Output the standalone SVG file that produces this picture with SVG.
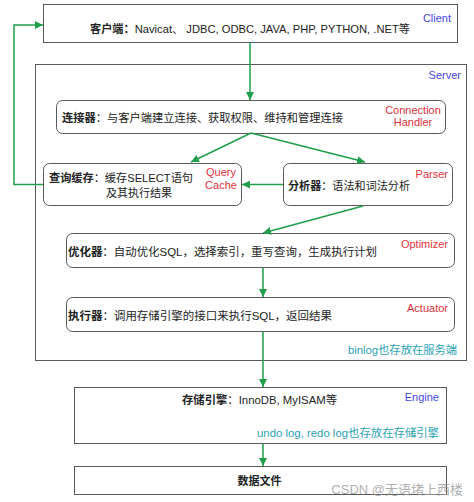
<svg xmlns="http://www.w3.org/2000/svg" width="474" height="502" viewBox="0 0 474 502">
<defs>
<marker id="ah" viewBox="0 0 10 10" refX="10" refY="5" markerWidth="8" markerHeight="8" markerUnits="userSpaceOnUse" orient="auto">
<path d="M0,0 L10,5 L0,10 z" fill="#1f9e4b"/>
</marker>
<style>
.box{fill:#fff;stroke:#595959;stroke-width:1}
.t{font-family:"Liberation Sans","Noto Sans CJK SC",sans-serif;font-size:11px;fill:#222}
.b{font-weight:bold}
.red{font-family:"Liberation Sans",Arial,sans-serif;font-size:11px;fill:#e0303a}
.blue{font-family:"Liberation Sans",Arial,sans-serif;font-size:11px;fill:#4646e6}
.teal{font-family:"Liberation Sans","Noto Sans CJK SC",sans-serif;font-size:11px;fill:#2ba3b3}
.c{fill:none;stroke:#1f9e4b;stroke-width:1.5}
</style>
</defs>
<rect width="474" height="502" fill="#fff"/>
<g id="server">
<rect class="box" x="35.5" y="64.5" width="431" height="296"/>
<text class="blue" x="461" y="79" text-anchor="end">Server</text>
<text class="teal" x="457" y="354" text-anchor="end" textLength="109" lengthAdjust="spacingAndGlyphs">binlog也存放在服务端</text>
</g>
<g id="client">
<rect class="box" x="43.5" y="4.5" width="414" height="38"/>
<text class="t" x="90" y="33" textLength="320" lengthAdjust="spacingAndGlyphs"><tspan class="b">客户端：</tspan>Navicat、 JDBC, ODBC, JAVA, PHP, PYTHON, .NET等</text>
<text class="blue" x="451" y="22" text-anchor="end">Client</text>
</g>
<g id="connector">
<rect class="box" x="56.5" y="100.5" width="389" height="33" rx="6"/>
<text class="t" x="62" y="122" textLength="281" lengthAdjust="spacingAndGlyphs"><tspan class="b">连接器</tspan>：与客户端建立连接、获取权限、维持和管理连接</text>
<text class="red" x="413" y="114" text-anchor="middle">Connection</text>
<text class="red" x="413" y="126" text-anchor="middle">Handler</text>
</g>
<g id="querycache">
<rect class="box" x="43.5" y="163.5" width="198" height="42" rx="6"/>
<text class="t" x="49" y="182" textLength="144" lengthAdjust="spacingAndGlyphs"><tspan class="b">查询缓存</tspan>：缓存SELECT语句</text>
<text class="t" x="106" y="197">及其执行结果</text>
<text class="red" x="221" y="176" text-anchor="middle">Query</text>
<text class="red" x="221" y="189" text-anchor="middle">Cache</text>
</g>
<g id="parser">
<rect class="box" x="283.5" y="163.5" width="169" height="42" rx="6"/>
<text class="t" x="288" y="190" textLength="122" lengthAdjust="spacingAndGlyphs"><tspan class="b">分析器</tspan>：语法和词法分析</text>
<text class="red" x="448" y="178" text-anchor="end">Parser</text>
</g>
<g id="optimizer">
<rect class="box" x="66.5" y="233.5" width="388" height="34" rx="6"/>
<text class="t" x="68" y="256" textLength="309" lengthAdjust="spacingAndGlyphs"><tspan class="b">优化器</tspan>：自动优化SQL，选择索引，重写查询，生成执行计划</text>
<text class="red" x="448" y="248" text-anchor="end">Optimizer</text>
</g>
<g id="actuator">
<rect class="box" x="66.5" y="297.5" width="388" height="34" rx="6"/>
<text class="t" x="68" y="320" textLength="264" lengthAdjust="spacingAndGlyphs"><tspan class="b">执行器</tspan>：调用存储引擎的接口来执行SQL，返回结果</text>
<text class="red" x="448" y="312" text-anchor="end">Actuator</text>
</g>
<g id="engine">
<rect class="box" x="74.5" y="387.5" width="372" height="56"/>
<text class="t" x="182" y="404" textLength="155" lengthAdjust="spacingAndGlyphs"><tspan class="b">存储引擎</tspan>：InnoDB, MyISAM等</text>
<text class="blue" x="439" y="401" text-anchor="end">Engine</text>
<text class="teal" x="439" y="437" text-anchor="end" textLength="182" lengthAdjust="spacingAndGlyphs">undo log, redo log也存放在存储引擎</text>
</g>
<g id="datafile">
<rect class="box" x="74.5" y="466.5" width="372" height="28"/>
<text class="t b" x="259.5" y="485" text-anchor="middle">数据文件</text>
</g>
<g id="connectors">
<line class="c" x1="250" y1="43" x2="250" y2="100" marker-end="url(#ah)"/>
<line class="c" x1="251" y1="133" x2="191" y2="162" marker-end="url(#ah)"/>
<line class="c" x1="251" y1="133" x2="365" y2="162" marker-end="url(#ah)"/>
<line class="c" x1="283" y1="184.5" x2="242" y2="184.5" marker-end="url(#ah)"/>
<line class="c" x1="363" y1="206" x2="263" y2="233" marker-end="url(#ah)"/>
<line class="c" x1="263" y1="268" x2="263" y2="297" marker-end="url(#ah)"/>
<line class="c" x1="263" y1="332" x2="263" y2="387" marker-end="url(#ah)"/>
<line class="c" x1="263" y1="444" x2="263" y2="466" marker-end="url(#ah)"/>
<polyline class="c" points="43,184.5 14,184.5 14,25 43,25" marker-end="url(#ah)"/>
</g>
<text x="463" y="494" text-anchor="end" font-family="Liberation Sans,Noto Sans CJK SC,sans-serif" font-size="13" fill="#9a9a9a" fill-opacity="0.8">CSDN @无语堵上西楼</text>
</svg>
